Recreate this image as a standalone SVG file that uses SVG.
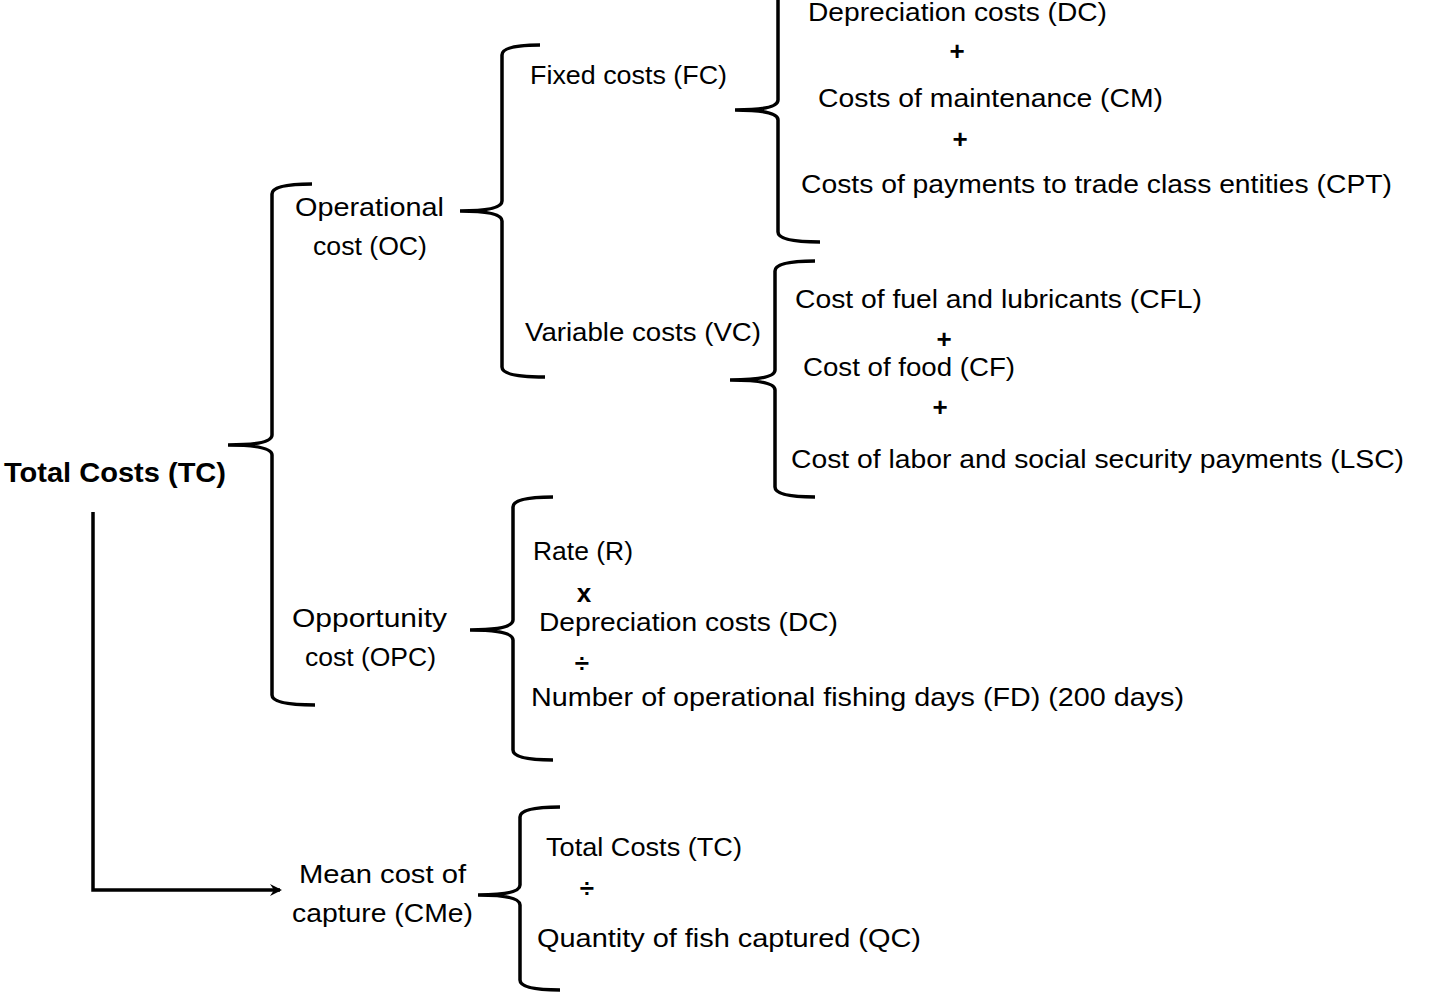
<svg xmlns="http://www.w3.org/2000/svg" width="1448" height="992" viewBox="0 0 1448 992">
<style>
text{font-family:"Liberation Sans",Arial,sans-serif;font-size:26px;fill:#000}
.b{font-weight:bold;font-size:28px}
.op{font-weight:bold;font-size:26px}
.br{fill:none;stroke:#000;stroke-width:3.5}
</style>
<defs><marker id="ah" markerWidth="12" markerHeight="12" refX="10" refY="6" orient="auto" markerUnits="userSpaceOnUse"><path d="M0,0 L12,6 L0,12 L4,6 Z" fill="#000"/></marker></defs>
<rect width="1448" height="992" fill="#fff"/>
<g id="connectors">
<path class="br" d="M312 184 Q272 184 272 194 L272 435 Q272 445 228 445 Q272 445 272 455 L272 695 Q272 705 315 705"/>
<path class="br" d="M540 45 Q502 45 502 55 L502 201 Q502 211 460 211 Q502 211 502 221 L502 367 Q502 377 545 377"/>
<path class="br" d="M778 -5 L778 100 Q778 110 735 110 Q778 110 778 120 L778 232 Q778 242 820 242"/>
<path class="br" d="M815 261 Q775 261 775 271 L775 370 Q775 380 730 380 Q775 380 775 390 L775 487 Q775 497 815 497"/>
<path class="br" d="M553 497 Q513 497 513 507 L513 620 Q513 630 470 630 Q513 630 513 640 L513 750 Q513 760 553 760"/>
<path class="br" d="M560 807 Q520 807 520 817 L520 885 Q520 895 478 895 Q520 895 520 905 L520 980 Q520 990 560 990"/>
<path fill="none" stroke="#000" stroke-width="3.5" d="M93 512 L93 890 L280 890" marker-end="url(#ah)"/>
</g>
<g id="tc"><text x="4" y="482" class="b" textLength="222" lengthAdjust="spacingAndGlyphs">Total Costs (TC)</text></g>
<g id="oc"><text x="295" y="216" textLength="149" lengthAdjust="spacingAndGlyphs">Operational</text><text x="313" y="255" textLength="114" lengthAdjust="spacingAndGlyphs">cost (OC)</text></g>
<g id="fc"><text x="530" y="84" textLength="197" lengthAdjust="spacingAndGlyphs">Fixed costs (FC)</text></g>
<g id="vc"><text x="525" y="341" textLength="236" lengthAdjust="spacingAndGlyphs">Variable costs (VC)</text></g>
<g id="fcitems">
<text x="808" y="21" textLength="299" lengthAdjust="spacingAndGlyphs">Depreciation costs (DC)</text>
<text x="957" y="60" class="op" text-anchor="middle">+</text>
<text x="818" y="107" textLength="345" lengthAdjust="spacingAndGlyphs">Costs of maintenance (CM)</text>
<text x="960" y="148" class="op" text-anchor="middle">+</text>
<text x="801" y="193" textLength="591" lengthAdjust="spacingAndGlyphs">Costs of payments to trade class entities (CPT)</text>
</g>
<g id="vcitems">
<text x="795" y="308" textLength="407" lengthAdjust="spacingAndGlyphs">Cost of fuel and lubricants (CFL)</text>
<text x="944" y="348" class="op" text-anchor="middle">+</text>
<text x="803" y="376" textLength="212" lengthAdjust="spacingAndGlyphs">Cost of food (CF)</text>
<text x="940" y="416" class="op" text-anchor="middle">+</text>
<text x="791" y="468" textLength="613" lengthAdjust="spacingAndGlyphs">Cost of labor and social security payments (LSC)</text>
</g>
<g id="opc"><text x="292" y="627" textLength="155" lengthAdjust="spacingAndGlyphs">Opportunity</text><text x="305" y="666" textLength="131" lengthAdjust="spacingAndGlyphs">cost (OPC)</text></g>
<g id="opcitems">
<text x="533" y="560" textLength="100" lengthAdjust="spacingAndGlyphs">Rate (R)</text>
<text x="584" y="602" class="op" text-anchor="middle">x</text>
<text x="539" y="631" textLength="299" lengthAdjust="spacingAndGlyphs">Depreciation costs (DC)</text>
<text x="582" y="672" class="op" text-anchor="middle">÷</text>
<text x="531" y="706" textLength="653" lengthAdjust="spacingAndGlyphs">Number of operational fishing days (FD) (200 days)</text>
</g>
<g id="cme"><text x="299" y="883" textLength="167" lengthAdjust="spacingAndGlyphs">Mean cost of</text><text x="292" y="922" textLength="181" lengthAdjust="spacingAndGlyphs">capture (CMe)</text></g>
<g id="cmeitems">
<text x="546" y="856" textLength="196" lengthAdjust="spacingAndGlyphs">Total Costs (TC)</text>
<text x="587" y="897" class="op" text-anchor="middle">÷</text>
<text x="537" y="947" textLength="384" lengthAdjust="spacingAndGlyphs">Quantity of fish captured (QC)</text>
</g>
</svg>
